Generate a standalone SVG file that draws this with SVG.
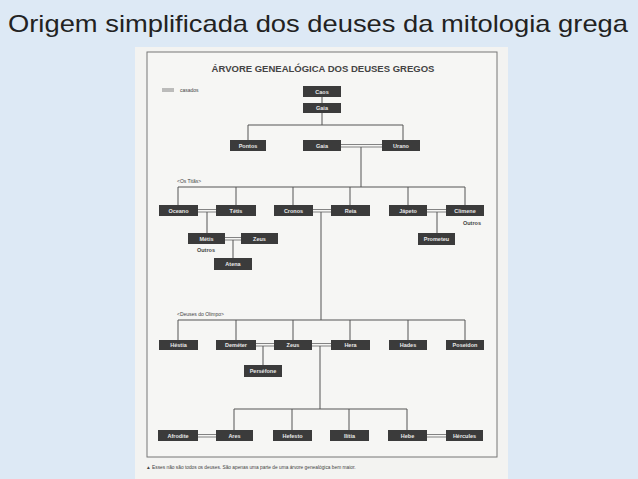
<svg xmlns="http://www.w3.org/2000/svg" width="638" height="479" viewBox="0 0 638 479">
<style>
.b{fill:#3b3b3b}
.t{fill:#e8e8e8;font-family:"Liberation Sans",sans-serif;font-size:5.5px;font-weight:bold;text-anchor:middle}
.l{fill:none;stroke:#555;stroke-width:1}
.m{fill:none;stroke:#666;stroke-width:0.8}
.s{font-family:"Liberation Sans",sans-serif;fill:#444}
</style>
<rect width="638" height="479" fill="#dde9f5"/>
<text x="8" y="32" font-family="Liberation Sans,sans-serif" font-size="24" fill="#222" textLength="620" lengthAdjust="spacingAndGlyphs">Origem simplificada dos deuses da mitologia grega</text>
<rect x="135" y="47" width="373" height="432" fill="#f3f3f1"/>
<rect x="147" y="52" width="350" height="405" fill="#f6f6f4" stroke="#777" stroke-width="1"/>
<text x="323" y="72" class="s" font-size="9.5" font-weight="bold" text-anchor="middle" fill="#333">ÁRVORE GENEALÓGICA DOS DEUSES GREGOS</text>
<path class="m" d="M162 89H174M162 91H174"/>
<text x="180" y="92" class="s" font-size="5">casados</text>
<text x="177" y="183" class="s" font-size="5">&lt;Os Titãs&gt;</text>
<text x="177" y="316" class="s" font-size="5">&lt;Deuses do Olimpo&gt;</text>
<text x="472" y="225" class="s" font-size="5.5" font-weight="bold" text-anchor="middle">Outros</text>
<text x="206" y="252" class="s" font-size="5.5" font-weight="bold" text-anchor="middle">Outros</text>
<text x="146" y="469" class="s" font-size="4.8">▲ Esses não são todos os deuses. São apenas uma parte de uma árvore genealógica bem maior.</text>
<g id="connectors">
<path class="l" d="M322 97V103M322 113V125M248 125H403M248 125V140M403 125V140"/>
<path class="m" d="M341 144.5H382M341 147H382"/>
<path class="l" d="M361 147V187M178 187H465M178 187V205M236 187V205M293 187V205M350 187V205M408 187V205M465 187V205"/>
<path class="m" d="M198 209.5H216M198 212H216M313 209.5H331M313 212H331M427 209.5H446M427 212H446"/>
<path class="l" d="M207 212V233M437 212V233M321 212V320"/>
<path class="m" d="M225 237.5H241M225 240H241"/>
<path class="l" d="M233 240V258M178 320H465M178 320V340M236 320V340M293 320V340M350 320V340M408 320V340M465 320V340"/>
<path class="m" d="M256 343.5H274M256 346H274M312 343.5H331M312 346H331"/>
<path class="l" d="M263 346V365M320 346V409M234 409H407M234 409V430M292 409V430M349 409V430M407 409V430"/>
<path class="m" d="M198 434.5H216M198 437H216M427 434.5H446M427 437H446"/>
</g>
<g id="caos"><rect class="b" x="303" y="86" width="38" height="11"/><text class="t" x="322" y="93.5">Caos</text></g>
<g id="gaia1"><rect class="b" x="303" y="103" width="38" height="10"/><text class="t" x="322" y="110">Gaia</text></g>
<g id="pontos"><rect class="b" x="230" y="140" width="36" height="11"/><text class="t" x="248" y="147.5">Pontos</text></g>
<g id="gaia2"><rect class="b" x="303" y="140" width="38" height="11"/><text class="t" x="322" y="147.5">Gaia</text></g>
<g id="urano"><rect class="b" x="382" y="140" width="38" height="11"/><text class="t" x="401" y="147.5">Urano</text></g>
<g id="oceano"><rect class="b" x="159" y="205" width="39" height="11"/><text class="t" x="178.5" y="212.5">Oceano</text></g>
<g id="tetis"><rect class="b" x="216" y="205" width="40" height="11"/><text class="t" x="236" y="212.5">Tétis</text></g>
<g id="cronos"><rect class="b" x="274" y="205" width="39" height="11"/><text class="t" x="293.5" y="212.5">Cronos</text></g>
<g id="reia"><rect class="b" x="331" y="205" width="39" height="11"/><text class="t" x="350.5" y="212.5">Reia</text></g>
<g id="japeto"><rect class="b" x="389" y="205" width="38" height="11"/><text class="t" x="408" y="212.5">Jápeto</text></g>
<g id="climene"><rect class="b" x="446" y="205" width="38" height="11"/><text class="t" x="465" y="212.5">Climene</text></g>
<g id="metis"><rect class="b" x="188" y="233" width="37" height="11"/><text class="t" x="206.5" y="240.5">Métis</text></g>
<g id="zeus1"><rect class="b" x="241" y="233" width="37" height="11"/><text class="t" x="259.5" y="240.5">Zeus</text></g>
<g id="prometeu"><rect class="b" x="418" y="233" width="37" height="12"/><text class="t" x="436.5" y="241">Prometeu</text></g>
<g id="atena"><rect class="b" x="214" y="258" width="38" height="12"/><text class="t" x="233" y="266">Atena</text></g>
<g id="hestia"><rect class="b" x="159" y="340" width="39" height="10"/><text class="t" x="178.5" y="347">Héstia</text></g>
<g id="demeter"><rect class="b" x="216" y="340" width="40" height="10"/><text class="t" x="236" y="347">Deméter</text></g>
<g id="zeus2"><rect class="b" x="274" y="340" width="38" height="10"/><text class="t" x="293" y="347">Zeus</text></g>
<g id="hera"><rect class="b" x="331" y="340" width="39" height="10"/><text class="t" x="350.5" y="347">Hera</text></g>
<g id="hades"><rect class="b" x="389" y="340" width="38" height="10"/><text class="t" x="408" y="347">Hades</text></g>
<g id="poseidon"><rect class="b" x="446" y="340" width="38" height="10"/><text class="t" x="465" y="347">Poseidon</text></g>
<g id="persefone"><rect class="b" x="244" y="365" width="38" height="12"/><text class="t" x="263" y="373">Perséfone</text></g>
<g id="afrodite"><rect class="b" x="158" y="430" width="40" height="11"/><text class="t" x="178" y="437.5">Afrodite</text></g>
<g id="ares"><rect class="b" x="216" y="430" width="37" height="11"/><text class="t" x="234.5" y="437.5">Ares</text></g>
<g id="hefesto"><rect class="b" x="273" y="430" width="39" height="11"/><text class="t" x="292.5" y="437.5">Hefesto</text></g>
<g id="ilitia"><rect class="b" x="330" y="430" width="39" height="11"/><text class="t" x="349.5" y="437.5">Ilítia</text></g>
<g id="hebe"><rect class="b" x="388" y="430" width="39" height="11"/><text class="t" x="407.5" y="437.5">Hebe</text></g>
<g id="hercules"><rect class="b" x="446" y="430" width="37" height="11"/><text class="t" x="464.5" y="437.5">Hércules</text></g>
</svg>
